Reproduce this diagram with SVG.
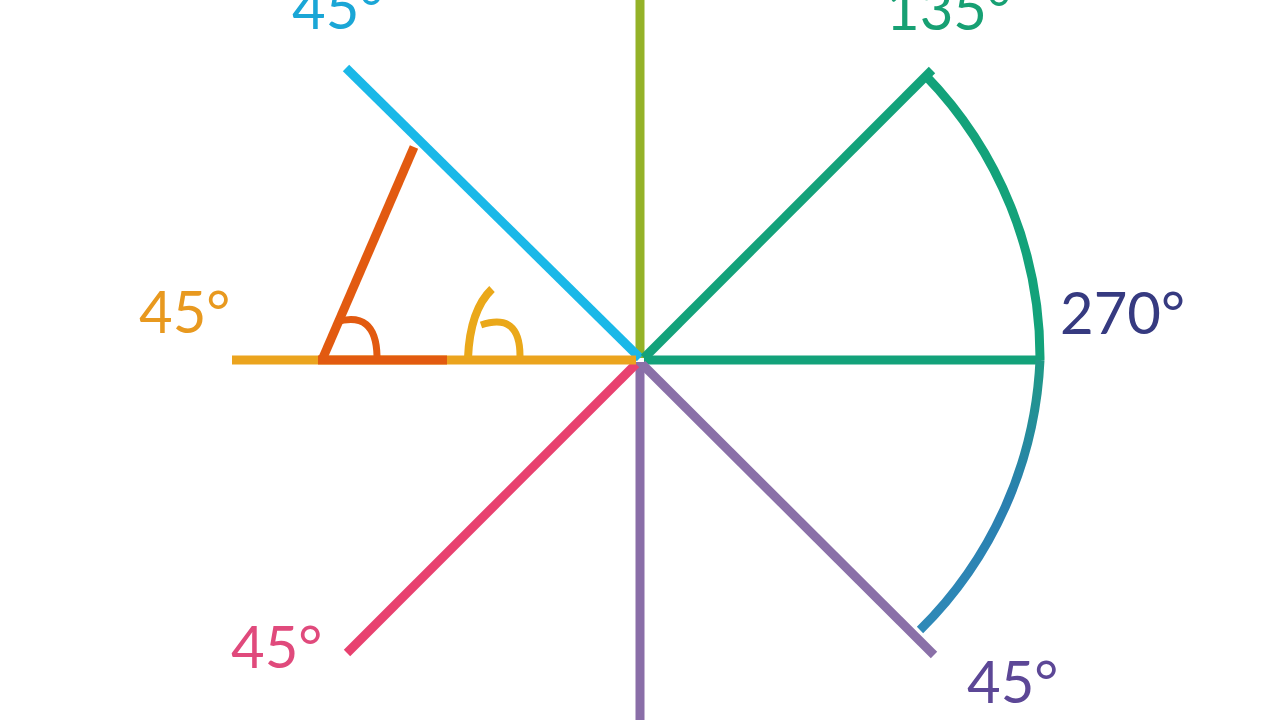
<svg xmlns="http://www.w3.org/2000/svg" width="1280" height="720" viewBox="0 0 1280 720">
<defs>
<style>
.ln{fill:none;stroke-width:9;stroke-linecap:butt}
.lbl{font-family:"Lato","Liberation Sans",sans-serif;font-size:58px}
</style>
<linearGradient id="arcLow" x1="0" y1="360" x2="0" y2="640" gradientUnits="userSpaceOnUse">
<stop offset="0" stop-color="#1f9a86"/>
<stop offset="0.5" stop-color="#2a7fb0"/>
<stop offset="1" stop-color="#2f8ab8"/>
</linearGradient>
</defs>
<rect width="1280" height="720" fill="#ffffff"/>
<g id="connectors">
<path class="ln" d="M640 0 V358" stroke="#94b228"/>
<path class="ln" d="M640 362 V720" stroke="#8a6ea8"/>
<path class="ln" d="M346 68 L640 358" stroke="#1ab8e8"/>
<path class="ln" d="M932 70 L644 358" stroke="#13a27a"/>
<path class="ln" d="M644 360 H1040" stroke="#13a27a"/>
<path class="ln" d="M925 75 A405 405 0 0 1 1040 360" stroke="#13a27a"/>
<path class="ln" d="M1040 360 A405 405 0 0 1 920 630" stroke="url(#arcLow)"/>
<path class="ln" d="M642 364 L934 655" stroke="#8a70a8"/>
<path class="ln" d="M636 364 L347 653" stroke="#e8416f"/>
<path class="ln" d="M232 360 H636" stroke="#eba41e"/>
<path class="ln" d="M318 360 H447" stroke="#e25a10"/>
<path class="ln" d="M322 360 Q370 250 414 147" stroke="#e25a10" stroke-width="9"/>
<path fill="none" stroke="#e25a10" stroke-width="7" d="M336 322 Q376 310 377 356"/>
<path fill="none" stroke="#eaa81a" stroke-width="8" d="M468 358 Q470 310 492 289"/>
<path fill="none" stroke="#eaa81a" stroke-width="7" d="M481 325 Q520 312 520 356"/>
</g>
<g id="label-45-top"><text class="lbl" x="292" y="29" fill="#1aa6d6">45°</text></g>
<g id="label-135"><text class="lbl" x="886" y="30" fill="#17a073">135°</text></g>
<g id="label-270"><text class="lbl" x="1060" y="334" fill="#363a80">270°</text></g>
<g id="label-45-left"><text class="lbl" x="139" y="333" fill="#e8991f">45°</text></g>
<g id="label-45-pink"><text class="lbl" x="231" y="668" fill="#e04a7c">45°</text></g>
<g id="label-45-purple"><text class="lbl" x="967" y="703" fill="#5c4796">45°</text></g>
</svg>
